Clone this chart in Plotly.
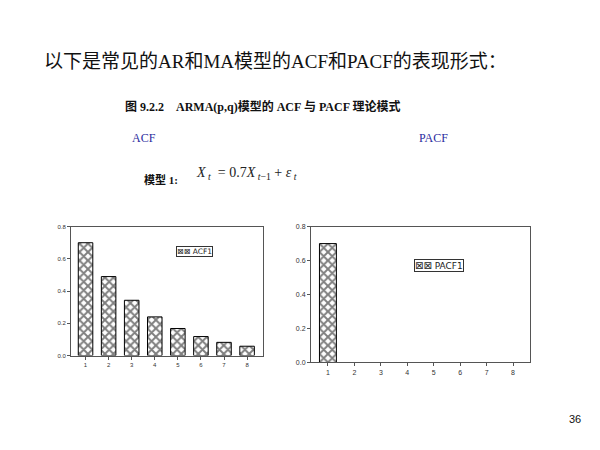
import plotly.graph_objects as go

# lag values and the theoretical ACF / PACF for model 1 (AR(1), phi = 0.7)
lags = [1, 2, 3, 4, 5, 6, 7, 8]
acf1 = [0.70, 0.49, 0.343, 0.24, 0.168, 0.118, 0.082, 0.058]
pacf1 = [0.70, 0, 0, 0, 0, 0, 0, 0]
y_ticks = [0.0, 0.2, 0.4, 0.6, 0.8]
y_ticklabels = ["0.0", "0.2", "0.4", "0.6", "0.8"]

serif = "Liberation Serif, Times New Roman, Noto Sans CJK SC, serif"
sans = "Liberation Sans, Arial, sans-serif"

W, H = 600, 450
OFF = 8  # page body margin in the browser


def px(x):
    return (x - OFF) / W


def py(y):
    return 1 - (y - OFF) / H


hatch = dict(shape="x", fgcolor="black", bgcolor="white", size=6, solidity=0.55)

fig = go.Figure()
fig.add_trace(go.Bar(
    x=lags, y=acf1, name="ACF1", width=0.63,
    marker=dict(color="white", pattern=hatch, line=dict(color="black", width=1)),
    xaxis="x", yaxis="y",
))
fig.add_trace(go.Bar(
    x=lags, y=pacf1, name="PACF1", width=0.64,
    marker=dict(color="white", pattern=hatch,
                line=dict(color="black", width=[1 if v else 0 for v in pacf1])),
    xaxis="x2", yaxis="y2",
))

axis_common = dict(
    showline=True, mirror=True, linecolor="#555", linewidth=1,
    showgrid=False, zeroline=False, ticks="outside", ticklen=3,
    tickcolor="#555",
)

fig.update_layout(
    width=W, height=H,
    margin=dict(l=0, r=0, t=0, b=0),
    paper_bgcolor="white", plot_bgcolor="white",
    showlegend=False,
    xaxis=dict(domain=[px(71), px(263)], range=[0.37, 8.69], tickvals=lags,
               tickfont=dict(family=sans, size=6, color="#333"), anchor="y", **axis_common),
    yaxis=dict(domain=[py(357), py(226)], range=[0, 0.8], tickvals=y_ticks, ticktext=y_ticklabels,
               tickfont=dict(family=sans, size=6, color="#333"), anchor="x", **axis_common),
    xaxis2=dict(domain=[px(311), px(530)], range=[0.36, 8.64], tickvals=lags,
                tickfont=dict(family=sans, size=7, color="#333"), anchor="y2", **axis_common),
    yaxis2=dict(domain=[py(364), py(226)], range=[0, 0.8], tickvals=y_ticks, ticktext=y_ticklabels,
                tickfont=dict(family=sans, size=7, color="#333"), anchor="x2", **axis_common),
)

texts = [
    dict(text="以下是常见的AR和MA模型的ACF和PACF的表现形式：", x=42, y=58,
         font=dict(family=serif, size=19, color="#111")),
    dict(text="<b>图 9.2.2    ARMA(p,q)模型的 ACF 与 PACF 理论模式</b>", x=123, y=104,
         font=dict(family=serif, size=12, color="#111")),
    dict(text="ACF", x=130, y=136, font=dict(family=serif, size=12, color="#2b2b9e")),
    dict(text="PACF", x=417, y=136, font=dict(family=serif, size=12, color="#2b2b9e")),
    dict(text="<b>模型 1:</b>", x=142, y=178, font=dict(family=serif, size=11, color="#111")),
    dict(text="<i>X</i><sub> <i>t</i></sub>  = 0.7<i>X</i><sub> <i>t</i>−1</sub> + <i>ε</i><sub> <i>t</i></sub>",
         x=194, y=172, font=dict(family=serif, size=14, color="#222")),
    dict(text="36", x=567, y=421, font=dict(family=sans, size=11, color="#111")),
]
for a in texts:
    fig.add_annotation(
        text=a["text"], x=px(a["x"]), y=py(a["y"]),
        xref="paper", yref="paper", xanchor="left", yanchor="middle",
        showarrow=False, font=a["font"],
    )

# compact boxed legends like the original figure
legends = [
    dict(name="ACF1", x=176, y=251, size=7.5),
    dict(name="PACF1", x=414, y=265, size=9),
]
for lg in legends:
    fig.add_annotation(
        text="<span style='font-size:%dpx'>⊠⊠</span> %s" % (lg["size"] + 1, lg["name"]),
        x=px(lg["x"]), y=py(lg["y"]),
        xref="paper", yref="paper", xanchor="left", yanchor="middle",
        showarrow=False, bordercolor="#333", borderwidth=1, borderpad=0,
        bgcolor="white", font=dict(family="DejaVu Sans, " + sans, size=lg["size"], color="#222"),
    )

fig.write_html("out.html")
